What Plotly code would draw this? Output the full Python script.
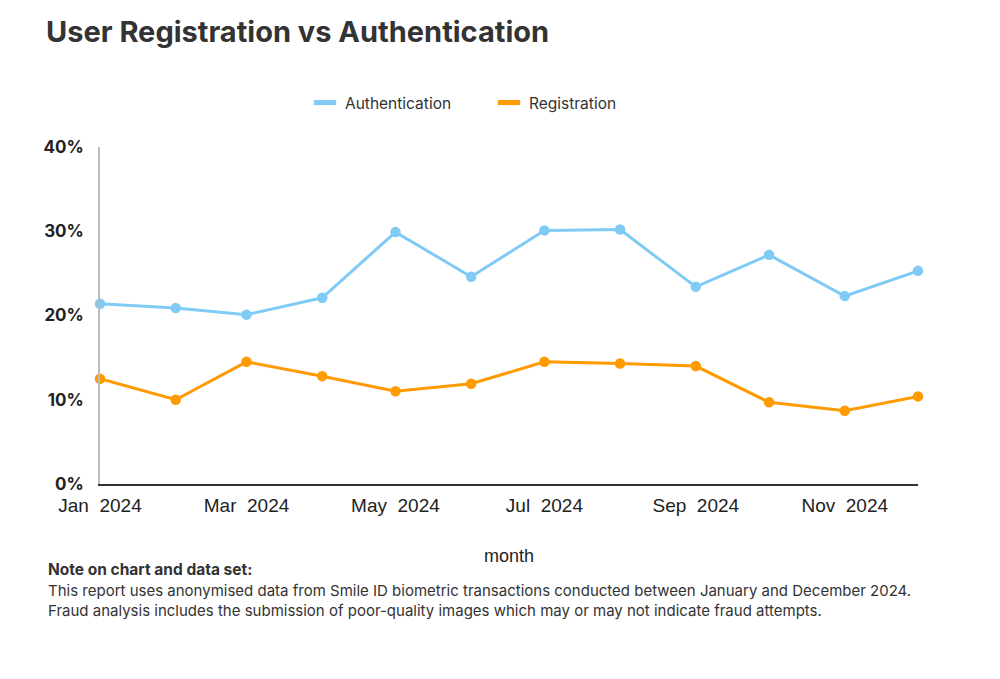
import plotly.graph_objects as go

months = ["2024-01-01", "2024-02-01", "2024-03-01", "2024-04-01", "2024-05-01", "2024-06-01",
          "2024-07-01", "2024-08-01", "2024-09-01", "2024-10-01", "2024-11-01", "2024-12-01"]
authentication = [21.4, 20.9, 20.1, 22.1, 29.9, 24.6, 30.1, 30.2, 23.4, 27.2, 22.3, 25.3]
registration = [12.5, 10.0, 14.5, 12.8, 11.0, 11.9, 14.5, 14.3, 14.0, 9.7, 8.7, 10.4]
y_ticks = [0, 10, 20, 30, 40]
y_tick_labels = ["0%", "10%", "20%", "30%", "40%"]

BLUE = "#80CBF6"
ORANGE = "#FF9A00"
FONT = "Inter, Lato, sans-serif"

fig = go.Figure()
for name, vals, col in [("Authentication", authentication, BLUE), ("Registration", registration, ORANGE)]:
    fig.add_trace(go.Scatter(x=months, y=vals, mode="lines+markers", name=name,
                             line=dict(color=col, width=3), marker=dict(color=col, size=10.5),
                             cliponaxis=False, showlegend=False, legendgroup=name))
    fig.add_trace(go.Scatter(x=[None], y=[None], mode="markers", name=name,
                             marker=dict(symbol="line-ew", size=18, color=col,
                                         line=dict(color=col, width=7)),
                             legendgroup=name))

fig.update_layout(
    width=1000, height=679,
    margin=dict(l=100, r=82, t=147, b=195, autoexpand=False),
    paper_bgcolor="white", plot_bgcolor="white",
    title=dict(text="<b>User Registration vs Authentication</b>", x=0.046, xanchor="left",
               y=1 - 32 / 679, yanchor="middle",
               font=dict(family=FONT, size=29, color="#333333")),
    legend=dict(orientation="h", x=0.2506, xanchor="left", y=1.1306, yanchor="middle",
                font=dict(family=FONT, size=15.5, color="#333333"),
                itemwidth=30, itemsizing="trace", entrywidth=139),
    xaxis=dict(type="date", range=["2024-01-01", "2024-12-01"], dtick="M2", tick0="2024-01-01",
               tickformat="%b  %Y", showgrid=False, showline=True, linecolor="#333333", linewidth=2,
               ticks="", tickfont=dict(family="Liberation Sans, Arial", size=19, color="#222222"),
               ticklabelstandoff=3,
               title=dict(text="month", font=dict(family="Liberation Sans, Arial", size=18, color="#222222"),
                          standoff=35),
               zeroline=False),
    yaxis=dict(range=[0, 40], tickvals=y_ticks, ticktext=y_tick_labels, showgrid=False,
               showline=True, linecolor="#bbbbbb", linewidth=1.5, ticks="",
               tickfont=dict(family=FONT, size=17, color="#222222", weight="bold"),
               ticklabelstandoff=11, zeroline=False),
)

fig.add_annotation(text="<b>Note on chart and data set:</b>", xref="paper", yref="paper",
                   x=-0.0655, y=-0.255, xanchor="left", yanchor="middle", showarrow=False,
                   font=dict(family=FONT, size=15.5, color="#333333"))
fig.add_annotation(text="This report uses anonymised data from Smile ID biometric transactions conducted between January and December 2024.<br>"
                        "Fraud analysis includes the submission of poor-quality images which may or may not indicate fraud attempts.",
                   xref="paper", yref="paper", x=-0.0655, y=-0.346, xanchor="left", yanchor="middle",
                   align="left", showarrow=False,
                   font=dict(family=FONT, size=15, color="#333333"))

fig.write_html("out.html", config={"displayModeBar": False},
               post_script="document.body.style.margin='0';")
